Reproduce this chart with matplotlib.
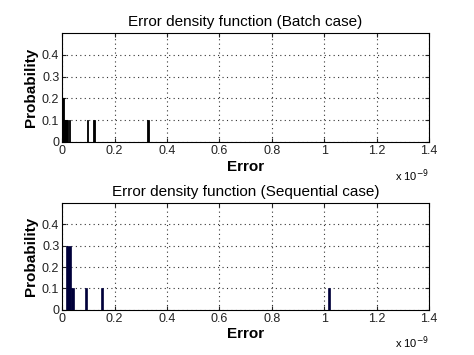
import numpy as np
import matplotlib
matplotlib.use('Agg')
import matplotlib.pyplot as plt

plt.rcParams['font.family'] = ['Liberation Sans', 'DejaVu Sans']

# error values in units of 1e-9
batch_err = [0.004, 0.008, 0.011, 0.014, 0.019, 0.027, 0.096, 0.122, 0.328]
batch_prob = [0.2, 0.1, 0.1, 0.1, 0.1, 0.1, 0.1, 0.1, 0.1]

seq_err = [0.025, 0.040, 0.091, 0.153, 1.018]
seq_prob = [0.3, 0.1, 0.1, 0.1, 0.1]
seq_width = [0.019, 0.011, 0.010, 0.010, 0.007]

xticks = [0, 0.2, 0.4, 0.6, 0.8, 1, 1.2, 1.4]
xticklabels = ['0', '0.2', '0.4', '0.6', '0.8', '1', '1.2', '1.4']
yticks = [0, 0.1, 0.2, 0.3, 0.4]
yticklabels = ['0', '0.1', '0.2', '0.3', '0.4']

fig = plt.figure(figsize=(4.74, 3.55), dpi=100)
ax1 = fig.add_axes([0.131, 0.600, 0.774, 0.307])
ax2 = fig.add_axes([0.131, 0.127, 0.774, 0.302])


def style(ax, title):
    ax.set_xlim(0, 1.4)
    ax.set_ylim(0, 0.5)
    ax.set_xticks(xticks)
    ax.set_xticklabels(xticklabels)
    ax.set_yticks(yticks)
    ax.set_yticklabels(yticklabels)
    ax.tick_params(direction='in', length=3, labelsize=9, colors='#222222',
                   top=True, right=True, pad=2)
    ax.grid(True, linestyle=(0, (1, 3)), color='#333333', linewidth=0.8)
    for s in ax.spines.values():
        s.set_linewidth(0.8)
    ax.set_title(title, fontsize=11, pad=5)
    ax.set_xlabel('Error', fontsize=11, fontweight='bold', labelpad=2)
    ax.set_ylabel('Probability', fontsize=11, fontweight='bold', labelpad=3)
    ax.text(1.0, -0.23, 'x 10$^{-9}$', transform=ax.transAxes, ha='right',
            va='top', fontsize=8)


ax1.bar(batch_err, batch_prob, width=0.005, color='black', edgecolor='black',
        linewidth=0.6, zorder=3, clip_on=False)
style(ax1, 'Error density function (Batch case)')

ax2.bar(seq_err, seq_prob, width=seq_width, color='#00003a', edgecolor='#00003a',
        linewidth=0.5, zorder=3)
style(ax2, 'Error density function (Sequential case)')

fig.savefig('out.png', dpi=100)
